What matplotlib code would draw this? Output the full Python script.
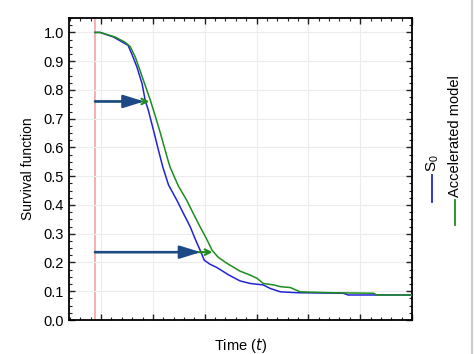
import matplotlib.pyplot as plt
from matplotlib.lines import Line2D
from matplotlib.ticker import MultipleLocator, NullFormatter

plt.rcParams['font.family'] = ['Liberation Sans', 'DejaVu Sans']

# S0 (baseline) survival curve
t_s0 = [-0.12, -0.02, 0.24, 0.52, 0.59, 0.69, 0.79, 0.85, 0.91, 1.01, 1.11, 1.19,
        1.30, 1.46, 1.59, 1.72, 1.81, 1.91, 1.99, 2.10, 2.23, 2.46, 2.68, 2.88,
        3.13, 3.26, 3.46, 3.78, 4.67, 4.77, 6.00]
s_s0 = [1.000, 1.000, 0.984, 0.955, 0.926, 0.880, 0.822, 0.764, 0.730, 0.660, 0.588, 0.532,
        0.470, 0.417, 0.370, 0.324, 0.284, 0.243, 0.208, 0.194, 0.183, 0.157, 0.136, 0.127,
        0.122, 0.110, 0.098, 0.095, 0.093, 0.087, 0.087]

# accelerated model curve
t_acc = [-0.12, -0.02, 0.27, 0.46, 0.56, 0.66, 0.75, 0.85, 0.95, 1.04, 1.14, 1.27,
         1.33, 1.49, 1.65, 1.78, 1.91, 2.03, 2.14, 2.26, 2.43, 2.68, 2.88, 3.01,
         3.13, 3.33, 3.46, 3.65, 3.84, 4.42, 5.26, 5.32, 6.00]
s_acc = [1.000, 1.000, 0.984, 0.966, 0.951, 0.914, 0.868, 0.816, 0.764, 0.712, 0.652, 0.568,
         0.532, 0.466, 0.417, 0.370, 0.324, 0.284, 0.243, 0.218, 0.197, 0.170, 0.156, 0.145,
         0.127, 0.122, 0.116, 0.113, 0.098, 0.095, 0.093, 0.087, 0.087]

t_start = -0.12
arrow_levels = [0.760, 0.236]
arrow_end_s0 = [0.83, 1.92]
arrow_end_acc = [0.93, 2.15]

blue = '#2323d6'
green = '#1e8c1e'

fig = plt.figure(figsize=(4.74, 3.54), dpi=100)
ax = fig.add_axes([0.1456, 0.096, 0.7236, 0.853])

ax.axvline(t_start, color='#f5a3a3', lw=1.2, zorder=1)
ax.plot(t_s0, s_s0, color=blue, lw=1.1, zorder=3)
ax.plot(t_acc, s_acc, color=green, lw=1.1, zorder=3)

for lvl, e0, e1 in zip(arrow_levels, arrow_end_s0, arrow_end_acc):
    ax.annotate('', xy=(e1, lvl), xytext=(t_start, lvl),
                arrowprops=dict(arrowstyle='->', color=green, lw=1.5,
                                mutation_scale=10, shrinkA=0, shrinkB=0), zorder=4)
    ax.annotate('', xy=(e0, lvl), xytext=(t_start, lvl),
                arrowprops=dict(arrowstyle='-|>,head_length=0.9,head_width=0.28',
                                color='#1d4a86', lw=1.8,
                                mutation_scale=14, shrinkA=0, shrinkB=0,
                                facecolor=blue, edgecolor=blue), zorder=5)

ax.set_xlim(-0.62, 6.0)
ax.set_ylim(0, 1.05)
ax.xaxis.set_major_locator(MultipleLocator(1))
ax.xaxis.set_minor_locator(MultipleLocator(0.2))
ax.xaxis.set_major_formatter(NullFormatter())
ax.yaxis.set_minor_locator(MultipleLocator(0.025))
ax.set_yticks([i / 10 for i in range(11)])
ax.set_yticklabels(['%.1f' % (i / 10) for i in range(11)], fontsize=10.5)
ax.tick_params(which='both', direction='in', top=True, right=True, color='#222222')
ax.tick_params(which='major', length=4, width=1)
ax.tick_params(which='minor', length=2, width=0.8)
ax.grid(True, which='major', color='#ececec', lw=0.8)
for sp in ax.spines.values():
    sp.set_linewidth(1.3)

ax.set_ylabel('Survival function', fontsize=10, labelpad=6)
ax.set_xlabel('Time ($\\it{t}$)', fontsize=10.5, labelpad=8)

# legend drawn rotated, to the right of the axes
fig.add_artist(Line2D([432 / 474, 432 / 474], [1 - 202 / 354, 1 - 175 / 354],
                      color=blue, lw=1.3))
fig.add_artist(Line2D([455 / 474, 455 / 474], [1 - 225 / 354, 1 - 200 / 354],
                      color=green, lw=1.3))
fig.text(433 / 474, 1 - 172 / 354, '$\\mathregular{S_0}$', rotation=90, fontsize=11,
         ha='center', va='bottom')
fig.text(455 / 474, 1 - 197 / 354, 'Accelerated model', rotation=90, fontsize=10.5,
         ha='center', va='bottom')

fig.add_artist(Line2D([472 / 474, 472 / 474], [0, 1], color='#cccccc', lw=1.5))

fig.savefig('out.png', dpi=100)
